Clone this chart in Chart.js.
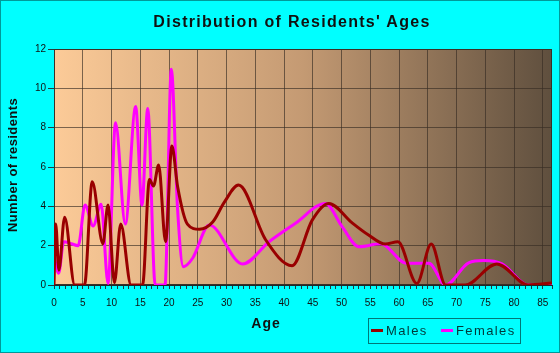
<!DOCTYPE html>
<html lang="en">
<head>
<meta charset="UTF-8">
<title>Distribution of Residents' Ages</title>
<script src="https://cdn.jsdelivr.net/npm/chart.js"></script>
<style>
  body { margin: 0; background: #00ffff; }
  #wrap { position: relative; width: 560px; height: 353px; background: #00ffff; font-family: "Liberation Sans", Arial, sans-serif; }
  #frame { position: absolute; left: 0; top: 0; width: 558px; height: 351px; border: 1px solid #009999; pointer-events: none; }
  #ageChart { position: absolute; left: 0; top: 0; }
  .txt { position: absolute; white-space: nowrap; color: #111; font-weight: bold; }
  #title { left: 0; width: 584px; top: 13px; text-align: center; font-size: 16px; letter-spacing: 1.3px; }
  #xTitle { left: 238px; width: 56px; top: 315px; text-align: center; font-size: 14px; letter-spacing: 1px; }
  #yTitle { left: 12px; top: 165px; font-size: 13px; letter-spacing: 0.4px; transform: translate(-50%, -50%) rotate(-90deg); }
  #legend { position: absolute; left: 368px; top: 318px; width: 151px; height: 24px; border: 1px solid #007777; font-size: 13px; letter-spacing: 1.4px; color: #003838; }
  #legend span.item { position: absolute; top: 4px; }
  #legend i { display: inline-block; width: 12px; height: 3px; vertical-align: middle; margin-right: 3px; position: relative; top: -1px; }
</style>
</head>
<body>
<div id="wrap">
  <canvas id="ageChart" width="560" height="353"></canvas>
  <div class="txt" id="title">Distribution of Residents' Ages</div>
  <div class="txt" id="xTitle">Age</div>
  <div class="txt" id="yTitle">Number of residents</div>
  <div id="legend">
    <span class="item" style="left:2px"><i style="background:#990000"></i>Males</span>
    <span class="item" style="left:72px"><i style="background:#ff00ff"></i>Females</span>
  </div>
  <div id="frame"></div>
</div>

<script>
  // values (age, number of residents)
  const maleAges = [0, 0.3, 0.85, 1.85, 3.6, 5.3, 6.65, 8.5, 9.4, 10.5, 11.6, 13.4, 15.4, 16.6, 17.3, 18.2, 19.4, 20.5, 21.5, 23.2, 25.3, 27.6, 29.6, 32.1, 36.8, 41.4, 44.9, 47.8, 51.8, 54.7, 57.6, 59.8, 63.1, 65.6, 68.1, 71.5, 77, 82.5, 86.6];
  const maleCounts = [0, 3.1, 0.75, 3.45, 0, 0, 5.25, 2.1, 4.07, 0.12, 3.1, 0, 0, 5.37, 5.03, 6.1, 2.2, 7.07, 5.0, 3.1, 2.83, 3.2, 4.2, 5.08, 2.3, 0.98, 3.3, 4.15, 3.17, 2.54, 2.08, 2.2, 0.08, 2.08, 0, 0, 1.07, 0, 0.1];

  const femaleAges = [0, 0.8, 1.7, 3, 4.2, 5.4, 6.8, 8.2, 9.4, 10.7, 12.4, 14.2, 15.3, 16.3, 17.6, 19.3, 20.4, 21.5, 22.5, 24.1, 27.0, 32.8, 37.4, 42, 47.2, 50.1, 53, 56.8, 61.3, 65.2, 68.1, 72.1, 74.7, 77.9, 82.5, 86.6];
  const femaleCounts = [1.5, 0.6, 2.2, 2.1, 2.0, 4.07, 3.0, 4.1, 0.08, 8.25, 3.1, 9.07, 4.07, 8.98, 0, 0, 10.97, 3.8, 0.93, 1.36, 3.05, 1.07, 2.2, 3.14, 4.15, 2.97, 1.95, 2.1, 1.1, 1.1, 0, 1.13, 1.24, 1.07, 0, 0];

  const xMax = 86.6;
  const yTicks = [0, 2, 4, 6, 8, 10, 12];

  const toPoints = (xs, ys) => xs.map((x, i) => ({ x: x, y: ys[i] }));

  // fondo degradado y marco del area del grafico
  const plotBackground = {
    id: 'plotBackground',
    beforeDraw(chart) {
      const { ctx, chartArea: a } = chart;
      const g = ctx.createLinearGradient(a.left, 0, a.right, 0);
      g.addColorStop(0, '#fccb98');
      g.addColorStop(0.5, '#c49a73');
      g.addColorStop(1, '#5f4f3e');
      ctx.save();
      ctx.fillStyle = g;
      ctx.fillRect(a.left, a.top, a.right - a.left, a.bottom - a.top);
      ctx.restore();
    },
    beforeDatasetsDraw(chart) {
      const { ctx, chartArea: a } = chart;
      ctx.save();
      ctx.strokeStyle = '#3a3128';
      ctx.lineWidth = 1;
      ctx.strokeRect(a.left + 0.5, a.top + 0.5, a.right - a.left - 1, a.bottom - a.top - 1);
      ctx.restore();
    }
  };

  const gridColor = 'rgba(55, 45, 35, 0.65)';

  new Chart(document.getElementById('ageChart').getContext('2d'), {
    type: 'line',
    data: {
      datasets: [{
        label: 'Males',
        data: toPoints(maleAges, maleCounts),
        borderColor: '#990000',
        borderWidth: 3,
        pointRadius: 0,
        cubicInterpolationMode: 'monotone'
      }, {
        label: 'Females',
        data: toPoints(femaleAges, femaleCounts),
        borderColor: '#ff00ff',
        borderWidth: 3,
        pointRadius: 0,
        cubicInterpolationMode: 'monotone'
      }]
    },
    options: {
      responsive: false,
      animation: false,
      layout: { padding: { top: 49, right: 7, left: 0, bottom: 0 } },
      plugins: { legend: { display: false }, title: { display: false }, tooltip: { enabled: false } },
      scales: {
        x: {
          type: 'linear',
          min: 0,
          max: xMax,
          afterFit: s => { s.height = 68; },
          border: { display: true, color: '#1f2a2a', width: 1 },
          grid: {
            color: c => (c.tick && c.tick.value % 5 === 0 && c.tick.value > 0) ? gridColor : 'transparent',
            tickColor: '#1f4040',
            tickLength: 4
          },
          ticks: {
            stepSize: 1,
            autoSkip: false,
            maxRotation: 0,
            padding: 8,
            color: '#111',
            font: { family: 'Liberation Sans', size: 10 },
            callback: v => (v % 5 === 0 ? v : '')
          }
        },
        y: {
          min: 0,
          max: 12,
          afterFit: s => { s.width = 54; },
          afterBuildTicks: s => { s.ticks = yTicks.map(v => ({ value: v })); },
          border: { display: true, color: '#1f2a2a', width: 1 },
          grid: {
            color: c => (c.tick && c.tick.value > 0) ? gridColor : 'transparent',
            tickColor: '#1f4040',
            tickLength: 6
          },
          ticks: {
            padding: 2,
            color: '#111',
            font: { family: 'Liberation Sans', size: 10 }
          }
        }
      }
    },
    plugins: [plotBackground]
  });
</script>
</body>
</html>
